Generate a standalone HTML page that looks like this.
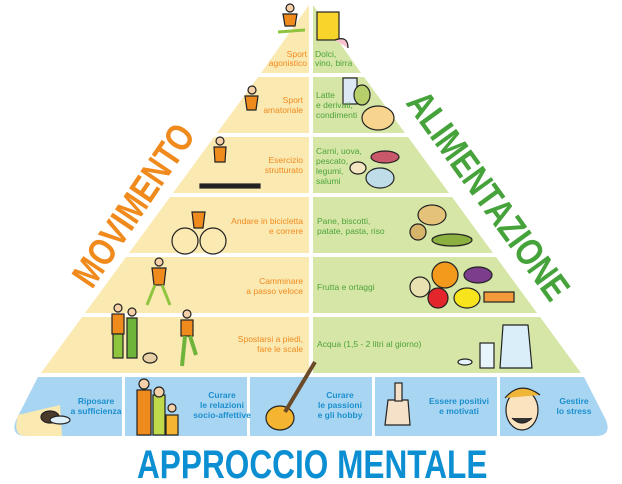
<!DOCTYPE html>
<html><head><meta charset="utf-8"><style>
html,body{margin:0;padding:0;background:#fff;width:622px;height:484px;overflow:hidden}
svg{display:block}
.o{fill:#ef8a1d;font-family:"Liberation Sans",sans-serif;font-size:8.5px;text-anchor:end}
.g{fill:#4ea33a;font-family:"Liberation Sans",sans-serif;font-size:8.5px;text-anchor:start}
.b{fill:#1b8fcf;font-family:"Liberation Sans",sans-serif;font-size:8.5px;text-anchor:middle;font-weight:bold}
</style></head><body>
<svg width="622" height="484" viewBox="0 0 622 484" xmlns="http://www.w3.org/2000/svg">
<g fill="#fbe9b2">
<polygon points="309,5 309,73 261,73"/>
<polygon points="309,77 258,77 217,133 309,133"/>
<polygon points="309,137 214,137 173,193 309,193"/>
<polygon points="309,197 170,197 129,253 309,253"/>
<polygon points="309,257 126,257 85,313 309,313"/>
<polygon points="309,317 82,317 41,373 309,373"/>
</g>
<g fill="#d5e6a6">
<polygon points="313,5 313,73 361,73"/>
<polygon points="313,77 364,77 405,133 313,133"/>
<polygon points="313,137 408,137 449,193 313,193"/>
<polygon points="313,197 452,197 493,253 313,253"/>
<polygon points="313,257 496,257 537,313 313,313"/>
<polygon points="313,317 540,317 581,373 313,373"/>
</g>
<path d="M38,377 L584,377 L606,420 Q612,436 596,436 L26,436 Q10,436 16,420 Z" fill="#a8d5f1"/>
<g fill="#fff"><rect x="122" y="377" width="3" height="59"/><rect x="247" y="377" width="3" height="59"/><rect x="372" y="377" width="3" height="59"/><rect x="497" y="377" width="3" height="59"/></g>
<path d="M18,415 L60,405 L62,436 L26,436 Q12,436 18,415Z" fill="#fbe9b2"/>

<g stroke="#222" stroke-width="1.2">
<circle cx="290" cy="8" r="4" fill="#f5d0a8"/><path d="M283,14 L297,14 L295,26 L285,26Z" fill="#ef8a1d"/><path d="M278,32 L305,30" stroke-width="3" stroke="#8fc43f"/>
<rect x="317" y="12" width="22" height="28" fill="#f8d52a"/><path d="M335,40 Q348,35 348,48" fill="#f7c3cf"/>
<rect x="343" y="78" width="14" height="26" fill="#dce9f4"/><ellipse cx="378" cy="118" rx="16" ry="12" fill="#f8d58e"/><ellipse cx="362" cy="95" rx="8" ry="10" fill="#b6cf6a"/>
<circle cx="252" cy="90" r="4" fill="#f5d0a8"/><path d="M245,96 L258,96 L256,110 L247,110Z" fill="#ef8a1d"/>
<circle cx="220" cy="141" r="4" fill="#f5d0a8"/><path d="M214,147 L226,147 L225,162 L215,162Z" fill="#ef8a1d"/><rect x="200" y="184" width="60" height="4" fill="#222"/>
<ellipse cx="385" cy="157" rx="14" ry="6" fill="#c9586b"/><ellipse cx="380" cy="178" rx="14" ry="10" fill="#bfdde8"/><ellipse cx="358" cy="168" rx="8" ry="6" fill="#f4e6c0"/>
<circle cx="185" cy="241" r="13" fill="none"/><circle cx="213" cy="241" r="13" fill="none"/><path d="M192,212 L205,212 L203,228 L194,228Z" fill="#ef8a1d"/>
<ellipse cx="432" cy="215" rx="14" ry="10" fill="#e5c27a"/><ellipse cx="418" cy="232" rx="8" ry="8" fill="#d6b46a"/><ellipse cx="452" cy="240" rx="20" ry="6" fill="#8cb040"/>
<circle cx="159" cy="262" r="4" fill="#f5d0a8"/><path d="M152,268 L166,268 L164,285 L154,285Z" fill="#ef8a1d"/><path d="M155,285 L147,305 M162,285 L170,305" stroke-width="3" stroke="#8fc43f"/>
<circle cx="420" cy="287" r="10" fill="#e9e1b0"/><circle cx="445" cy="275" r="13" fill="#f39a1c"/><ellipse cx="478" cy="275" rx="14" ry="8" fill="#7c3d8c"/><circle cx="438" cy="298" r="10" fill="#e2262c"/><ellipse cx="467" cy="298" rx="13" ry="10" fill="#f7e41c"/><rect x="484" y="292" width="30" height="10" fill="#f39a3a"/>
<circle cx="118" cy="308" r="4" fill="#f5d0a8"/><rect x="112" y="314" width="12" height="20" fill="#ef8a1d"/><circle cx="132" cy="312" r="4" fill="#f5d0a8"/><rect x="127" y="318" width="10" height="40" fill="#6fb43a"/><rect x="113" y="334" width="10" height="24" fill="#8fc43f"/>
<circle cx="187" cy="314" r="4" fill="#f5d0a8"/><rect x="181" y="320" width="12" height="16" fill="#ef8a1d"/><path d="M185,336 L182,366 M190,336 L196,355" stroke-width="4" stroke="#6fb43a"/>
<ellipse cx="150" cy="358" rx="7" ry="5" fill="#e8cfa5"/>
<path d="M503,325 L528,325 L532,368 L500,368Z" fill="#d9eef8"/><rect x="480" y="343" width="14" height="25" fill="#e7f4fb"/><ellipse cx="465" cy="362" rx="7" ry="3" fill="#e7f4fb"/>
<ellipse cx="50" cy="417" rx="9" ry="6" fill="#4b3b2b"/><ellipse cx="60" cy="420" rx="10" ry="4" fill="#dff0f8"/>
<rect x="137" y="390" width="14" height="45" fill="#ef8a1d"/><rect x="153" y="395" width="12" height="40" fill="#c0d94a"/><rect x="166" y="415" width="12" height="20" fill="#f6b530"/><circle cx="144" cy="384" r="5" fill="#f5d0a8"/><circle cx="159" cy="392" r="5" fill="#f5d0a8"/><circle cx="172" cy="408" r="4" fill="#f5d0a8"/>
<ellipse cx="280" cy="418" rx="14" ry="12" fill="#f6b530"/><path d="M285,412 L315,362" stroke-width="4" stroke="#6b4a2a"/>
<path d="M388,400 L408,400 L410,425 L385,425 Z" fill="#f5e1c8"/><rect x="395" y="383" width="7" height="18" fill="#f5e1c8"/>
<ellipse cx="522" cy="410" rx="16" ry="20" fill="#fbe3c0"/><path d="M505,398 Q520,380 540,395" fill="#f0b63a"/><path d="M512,418 Q522,428 532,418" fill="#333"/>
</g>

<text class="o" x="307" y="57">Sport</text><text class="o" x="307" y="66">agonistico</text>
<text class="o" x="303" y="103">Sport</text><text class="o" x="303" y="113">amatoriale</text>
<text class="o" x="303" y="163">Esercizio</text><text class="o" x="303" y="173">strutturato</text>
<text class="o" x="303" y="224">Andare in bicicletta</text><text class="o" x="303" y="234">e correre</text>
<text class="o" x="303" y="284">Camminare</text><text class="o" x="303" y="294">a passo veloce</text>
<text class="o" x="303" y="342">Spostarsi a piedi,</text><text class="o" x="303" y="352">fare le scale</text>
<text class="g" x="315" y="57">Dolci,</text><text class="g" x="315" y="66">vino, birra</text>
<text class="g" x="316" y="98">Latte</text><text class="g" x="316" y="108">e derivati,</text><text class="g" x="316" y="118">condimenti</text>
<text class="g" x="316" y="154">Carni, uova,</text><text class="g" x="316" y="164">pescato,</text><text class="g" x="316" y="174">legumi,</text><text class="g" x="316" y="184">salumi</text>
<text class="g" x="317" y="224">Pane, biscotti,</text><text class="g" x="317" y="234">patate, pasta, riso</text>
<text class="g" x="317" y="290">Frutta e ortaggi</text>
<text class="g" x="317" y="347">Acqua (1,5 - 2 litri al giorno)</text>
<text class="b" x="96" y="404">Riposare</text><text class="b" x="96" y="414">a sufficienza</text>
<text class="b" x="222" y="398">Curare</text><text class="b" x="222" y="408">le relazioni</text><text class="b" x="222" y="418">socio-affettive</text>
<text class="b" x="340" y="398">Curare</text><text class="b" x="340" y="408">le passioni</text><text class="b" x="340" y="418">e gli hobby</text>
<text class="b" x="459" y="404">Essere positivi</text><text class="b" x="459" y="414">e motivati</text>
<text class="b" x="574" y="404">Gestire</text><text class="b" x="574" y="414">lo stress</text>

<text x="0" y="0" transform="translate(92,290) rotate(-56) scale(0.8,1)" fill="#f08a1d" font-family="Liberation Sans,sans-serif" font-weight="bold" font-size="38">MOVIMENTO</text>
<text x="0" y="0" transform="translate(405,103) rotate(54) scale(0.8,1)" fill="#46a23a" font-family="Liberation Sans,sans-serif" font-weight="bold" font-size="38">ALIMENTAZIONE</text>
<text x="0" y="0" transform="translate(137,478) scale(0.79,1)" fill="#0b8fd2" font-family="Liberation Sans,sans-serif" font-weight="bold" font-size="40">APPROCCIO MENTALE</text>
</svg>
</body></html>
